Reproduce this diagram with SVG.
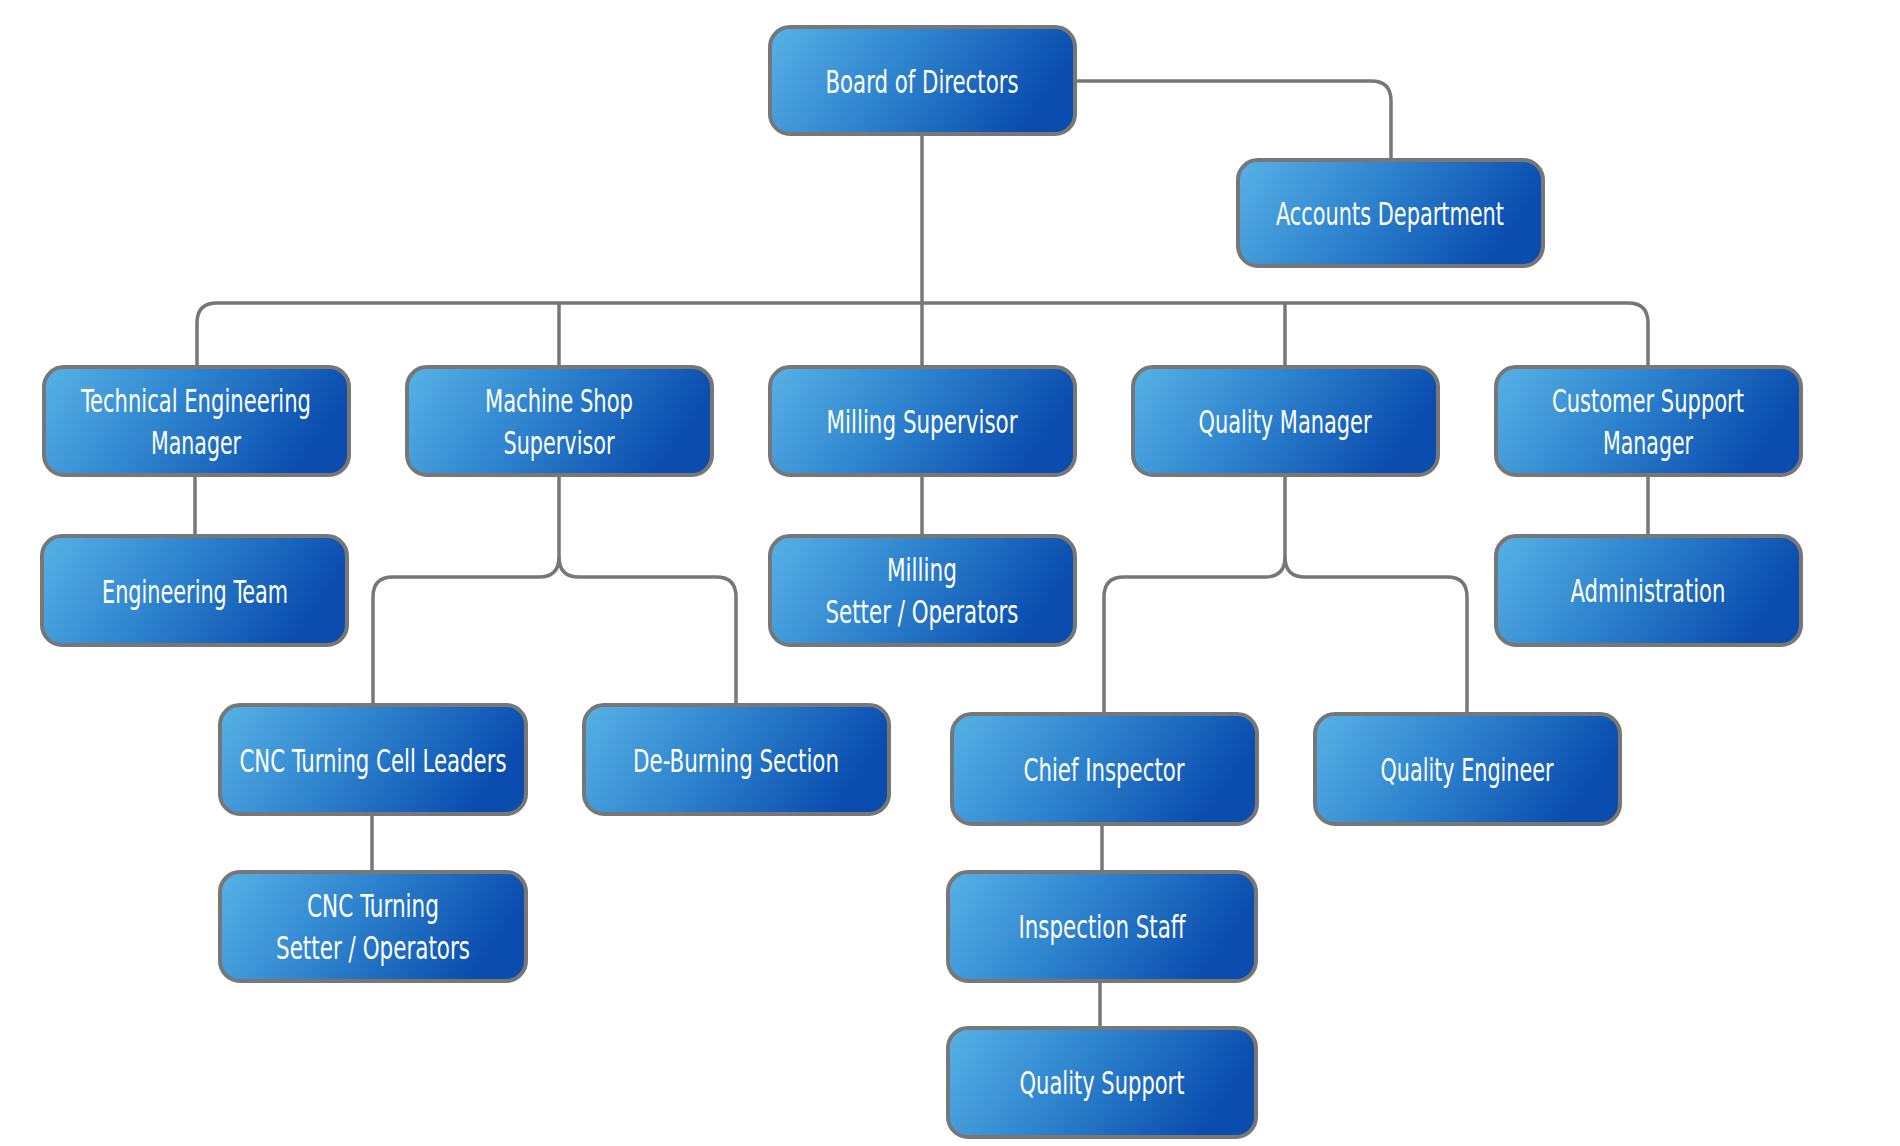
<svg xmlns="http://www.w3.org/2000/svg" width="1900" height="1146" viewBox="0 0 1900 1146">
<defs>
<linearGradient id="g" x1="0" y1="0" x2="1" y2="0.25">
<stop offset="0" stop-color="#57b2e6"/>
<stop offset="0.5" stop-color="#2d82cd"/>
<stop offset="1" stop-color="#0a4daf"/>
</linearGradient>
<style>
.box{fill:url(#g);stroke:#777;stroke-width:4}
.t{fill:#fff;font-family:"DejaVu Sans Condensed","Liberation Sans",sans-serif;font-size:32px;text-anchor:middle}
.c{fill:none;stroke:#777;stroke-width:3.5}
</style>
</defs>
<rect width="1900" height="1146" fill="#fff"/>
<g id="connectors">
<path class="c" d="M922,134 V303"/>
<path class="c" d="M197,367 V323 Q197,303 217,303 H1628 Q1648,303 1648,323 V367"/>
<path class="c" d="M559,303 V367"/>
<path class="c" d="M922,303 V367"/>
<path class="c" d="M1285,303 V367"/>
<path class="c" d="M1075,81 H1371 Q1391,81 1391,101 V160"/>
<path class="c" d="M195,475 V536"/>
<path class="c" d="M559,475 V557 Q559,577 539,577 H393 Q373,577 373,597 V705"/>
<path class="c" d="M559,557 Q559,577 579,577 H716 Q736,577 736,597 V705"/>
<path class="c" d="M922,475 V536"/>
<path class="c" d="M1285,475 V557 Q1285,577 1265,577 H1124 Q1104,577 1104,597 V714"/>
<path class="c" d="M1285,557 Q1285,577 1305,577 H1447 Q1467,577 1467,597 V714"/>
<path class="c" d="M1648,475 V536"/>
<path class="c" d="M372,814 V872"/>
<path class="c" d="M1102,824 V872"/>
<path class="c" d="M1100,981 V1028"/>
</g>
<g id="board"><rect class="box" x="770" y="27" width="305" height="107" rx="20"/><text class="t" x="922" y="93" textLength="193" lengthAdjust="spacingAndGlyphs">Board of Directors</text></g>
<g id="accounts"><rect class="box" x="1238" y="160" width="305" height="106" rx="20"/><text class="t" x="1390" y="225" textLength="228" lengthAdjust="spacingAndGlyphs">Accounts Department</text></g>
<g id="tech"><rect class="box" x="44" y="367" width="305" height="108" rx="20"/><text class="t" x="196" y="412" textLength="230" lengthAdjust="spacingAndGlyphs">Technical Engineering</text><text class="t" x="196" y="454" textLength="90" lengthAdjust="spacingAndGlyphs">Manager</text></g>
<g id="machine"><rect class="box" x="407" y="367" width="305" height="108" rx="20"/><text class="t" x="559" y="412" textLength="148" lengthAdjust="spacingAndGlyphs">Machine Shop</text><text class="t" x="559" y="454" textLength="111" lengthAdjust="spacingAndGlyphs">Supervisor</text></g>
<g id="milling"><rect class="box" x="770" y="367" width="305" height="108" rx="20"/><text class="t" x="922" y="433" textLength="191" lengthAdjust="spacingAndGlyphs">Milling Supervisor</text></g>
<g id="quality"><rect class="box" x="1133" y="367" width="305" height="108" rx="20"/><text class="t" x="1285" y="433" textLength="173" lengthAdjust="spacingAndGlyphs">Quality Manager</text></g>
<g id="customer"><rect class="box" x="1496" y="367" width="305" height="108" rx="20"/><text class="t" x="1648" y="412" textLength="192" lengthAdjust="spacingAndGlyphs">Customer Support</text><text class="t" x="1648" y="454" textLength="90" lengthAdjust="spacingAndGlyphs">Manager</text></g>
<g id="engteam"><rect class="box" x="42" y="536" width="305" height="109" rx="20"/><text class="t" x="195" y="603" textLength="186" lengthAdjust="spacingAndGlyphs">Engineering Team</text></g>
<g id="millset"><rect class="box" x="770" y="536" width="305" height="109" rx="20"/><text class="t" x="922" y="581" textLength="70" lengthAdjust="spacingAndGlyphs">Milling</text><text class="t" x="922" y="623" textLength="193" lengthAdjust="spacingAndGlyphs">Setter / Operators</text></g>
<g id="admin"><rect class="box" x="1496" y="536" width="305" height="109" rx="20"/><text class="t" x="1648" y="602" textLength="155" lengthAdjust="spacingAndGlyphs">Administration</text></g>
<g id="cnccell"><rect class="box" x="220" y="705" width="306" height="109" rx="20"/><text class="t" x="373" y="772" textLength="267" lengthAdjust="spacingAndGlyphs">CNC Turning Cell Leaders</text></g>
<g id="deburr"><rect class="box" x="584" y="705" width="305" height="109" rx="20"/><text class="t" x="736" y="772" textLength="206" lengthAdjust="spacingAndGlyphs">De-Burning Section</text></g>
<g id="chief"><rect class="box" x="952" y="714" width="305" height="110" rx="20"/><text class="t" x="1104" y="781" textLength="161" lengthAdjust="spacingAndGlyphs">Chief Inspector</text></g>
<g id="qeng"><rect class="box" x="1315" y="714" width="305" height="110" rx="20"/><text class="t" x="1467" y="781" textLength="173" lengthAdjust="spacingAndGlyphs">Quality Engineer</text></g>
<g id="cncset"><rect class="box" x="220" y="872" width="306" height="109" rx="20"/><text class="t" x="373" y="917" textLength="132" lengthAdjust="spacingAndGlyphs">CNC Turning</text><text class="t" x="373" y="959" textLength="194" lengthAdjust="spacingAndGlyphs">Setter / Operators</text></g>
<g id="inspstaff"><rect class="box" x="948" y="872" width="308" height="109" rx="20"/><text class="t" x="1102" y="938" textLength="167" lengthAdjust="spacingAndGlyphs">Inspection Staff</text></g>
<g id="qsupport"><rect class="box" x="948" y="1028" width="308" height="109" rx="20"/><text class="t" x="1102" y="1094" textLength="165" lengthAdjust="spacingAndGlyphs">Quality Support</text></g>
</svg>
